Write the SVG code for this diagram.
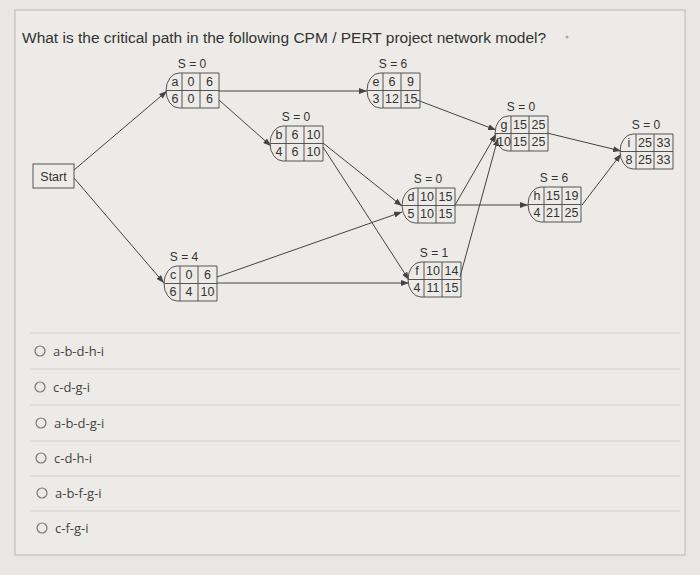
<svg xmlns="http://www.w3.org/2000/svg" width="700" height="575" viewBox="0 0 700 575">
<defs>
<marker id="ar" markerWidth="8" markerHeight="6" refX="8" refY="3" orient="auto" markerUnits="userSpaceOnUse"><path d="M0,0 L8,3 L0,6 z" fill="#444"/></marker>
<g id="shape"><path d="M13,0 H53 V35 H13 A13,17.5 0 0 1 13,0 z" fill="none" stroke="#555" stroke-width="1"/><path d="M0,17.5 H53 M16,0 V35 M34,0 V35" stroke="#555" stroke-width="1" fill="none"/></g>
</defs>
<style>
text{font-family:"Liberation Sans",Arial,sans-serif;fill:#333}
.n{font-size:12.5px;text-anchor:middle}
.s{font-size:12px;text-anchor:middle}
.opt{font-size:13px;fill:#444;font-family:"Open Sans","Liberation Sans",sans-serif}
.sep{stroke:#d2d1cd;stroke-width:1}
.e{stroke:#444;stroke-width:1;fill:none;marker-end:url(#ar)}
</style>
<rect width="700" height="575" fill="#e8e7e3"/>
<rect x="15" y="10" width="670" height="545" fill="#ecebe7" stroke="#b9b8b4"/>
<text x="22" y="43" font-size="15.5" fill="#222">What is the critical path in the following CPM / PERT project network model?</text>
<circle cx="567" cy="37" r="1.5" fill="#aaa"/>

<g id="connectors">
<line class="e" x1="74" y1="170" x2="167" y2="91"/>
<line class="e" x1="74" y1="178" x2="164" y2="283"/>
<line class="e" x1="219" y1="91" x2="367" y2="91"/>
<line class="e" x1="219" y1="100" x2="271" y2="146"/>
<line class="e" x1="323" y1="143" x2="402" y2="206"/>
<line class="e" x1="323" y1="147" x2="409" y2="280"/>
<line class="e" x1="217" y1="277" x2="402" y2="212"/>
<line class="e" x1="217" y1="283" x2="409" y2="283"/>
<line class="e" x1="417" y1="100" x2="496" y2="130"/>
<line class="e" x1="455" y1="205" x2="496" y2="134"/>
<line class="e" x1="460" y1="277" x2="498" y2="138"/>
<line class="e" x1="455" y1="205" x2="528" y2="205"/>
<line class="e" x1="547" y1="133" x2="621" y2="151"/>
<line class="e" x1="582" y1="205" x2="621" y2="154"/>
</g>

<g id="start"><rect x="33" y="164" width="41" height="24" fill="none" stroke="#555"/><text x="53.5" y="181" class="n" font-size="12">Start</text></g>

<g id="node-a" transform="translate(166,73)"><use href="#shape"/><text class="s" x="26" y="-5">S = 0</text>
<text class="n" x="9" y="13">a</text><text class="n" x="25" y="13">0</text><text class="n" x="43.5" y="13">6</text>
<text class="n" x="9" y="30">6</text><text class="n" x="25" y="30">0</text><text class="n" x="43.5" y="30">6</text></g>

<g id="node-e" transform="translate(367,73)"><use href="#shape"/><text class="s" x="26" y="-5">S = 6</text>
<text class="n" x="9" y="13">e</text><text class="n" x="25" y="13">6</text><text class="n" x="43.5" y="13">9</text>
<text class="n" x="9" y="30">3</text><text class="n" x="25" y="30">12</text><text class="n" x="43.5" y="30">15</text></g>

<g id="node-b" transform="translate(270,126)"><use href="#shape"/><text class="s" x="26" y="-5">S = 0</text>
<text class="n" x="9" y="13">b</text><text class="n" x="25" y="13">6</text><text class="n" x="43.5" y="13">10</text>
<text class="n" x="9" y="30">4</text><text class="n" x="25" y="30">6</text><text class="n" x="43.5" y="30">10</text></g>

<g id="node-c" transform="translate(164,266)"><use href="#shape"/><text class="s" x="20" y="-5">S = 4</text>
<text class="n" x="9" y="13">c</text><text class="n" x="25" y="13">0</text><text class="n" x="43.5" y="13">6</text>
<text class="n" x="9" y="30">6</text><text class="n" x="25" y="30">4</text><text class="n" x="43.5" y="30">10</text></g>

<g id="node-d" transform="translate(402,188)"><use href="#shape"/><text class="s" x="26" y="-5">S = 0</text>
<text class="n" x="9" y="13">d</text><text class="n" x="25" y="13">10</text><text class="n" x="43.5" y="13">15</text>
<text class="n" x="9" y="30">5</text><text class="n" x="25" y="30">10</text><text class="n" x="43.5" y="30">15</text></g>

<g id="node-f" transform="translate(408,262)"><use href="#shape"/><text class="s" x="26" y="-5">S = 1</text>
<text class="n" x="9" y="13">f</text><text class="n" x="25" y="13">10</text><text class="n" x="43.5" y="13">14</text>
<text class="n" x="9" y="30">4</text><text class="n" x="25" y="30">11</text><text class="n" x="43.5" y="30">15</text></g>

<g id="node-g" transform="translate(495,116)"><use href="#shape"/><text class="s" x="26" y="-5">S = 0</text>
<text class="n" x="9" y="13">g</text><text class="n" x="25" y="13">15</text><text class="n" x="43.5" y="13">25</text>
<text class="n" x="9" y="30">10</text><text class="n" x="25" y="30">15</text><text class="n" x="43.5" y="30">25</text></g>

<g id="node-h" transform="translate(528,187)"><use href="#shape"/><text class="s" x="26" y="-5">S = 6</text>
<text class="n" x="9" y="13">h</text><text class="n" x="25" y="13">15</text><text class="n" x="43.5" y="13">19</text>
<text class="n" x="9" y="30">4</text><text class="n" x="25" y="30">21</text><text class="n" x="43.5" y="30">25</text></g>

<g id="node-i" transform="translate(620,134)"><use href="#shape"/><text class="s" x="26" y="-5">S = 0</text>
<text class="n" x="9" y="13">i</text><text class="n" x="25" y="13">25</text><text class="n" x="43.5" y="13">33</text>
<text class="n" x="9" y="30">8</text><text class="n" x="25" y="30">25</text><text class="n" x="43.5" y="30">33</text></g>

<g id="options">
<line class="sep" x1="30" y1="333" x2="680" y2="333"/>
<line class="sep" x1="30" y1="369" x2="680" y2="369"/>
<line class="sep" x1="30" y1="405" x2="680" y2="405"/>
<line class="sep" x1="30" y1="441" x2="680" y2="441"/>
<line class="sep" x1="30" y1="476" x2="680" y2="476"/>
<line class="sep" x1="30" y1="511" x2="680" y2="511"/>
<g fill="none" stroke="#777" stroke-width="1.2">
<circle cx="40" cy="351" r="5"/><circle cx="40" cy="387" r="5"/><circle cx="41" cy="423" r="5"/><circle cx="41" cy="458" r="5"/><circle cx="42" cy="493" r="5"/><circle cx="42" cy="528" r="5"/>
</g>
<text class="opt" x="53" y="356">a-b-d-h-i</text>
<text class="opt" x="53" y="392">c-d-g-i</text>
<text class="opt" x="54" y="428">a-b-d-g-i</text>
<text class="opt" x="54" y="463">c-d-h-i</text>
<text class="opt" x="55" y="498">a-b-f-g-i</text>
<text class="opt" x="55" y="533">c-f-g-i</text>
</g>
</svg>
